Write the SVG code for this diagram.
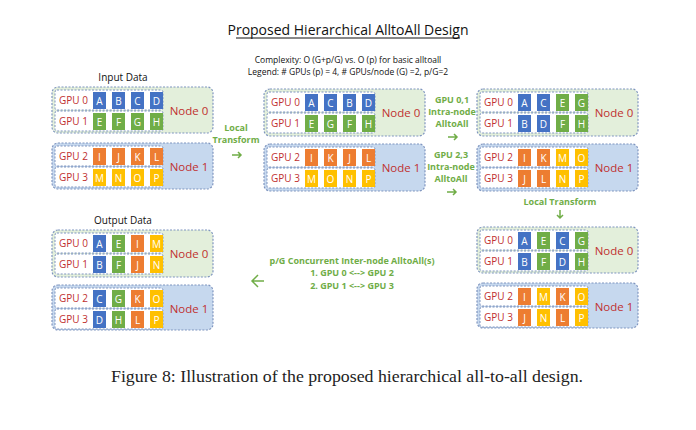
<svg xmlns="http://www.w3.org/2000/svg" width="696" height="430" viewBox="0 0 696 430">
<style>
text{font-family:"Open Sans","Liberation Sans",sans-serif}
.cap{font-family:"Liberation Serif",serif;font-size:16px;fill:#222;text-anchor:middle}
.n0{fill:#e3efdb;stroke:#7f95bf;stroke-dasharray:2 1.5;stroke-width:1.2}
.n1{fill:#c6d8ee;stroke:#7f95bf;stroke-dasharray:2 1.5;stroke-width:1.2}
.row{fill:#fff;stroke:#7f95bf;stroke-dasharray:2 1.5;stroke-width:1}
.g{font-size:10px;fill:#c0302f}
.nl{font-size:11.5px;fill:#c0302f;text-anchor:middle}
.c{font-size:10px;fill:#fff;text-anchor:middle}
.b{fill:#4472c4}.gr{fill:#70ad47}.o{fill:#ed7d31}.y{fill:#ffc000}
.lab{font-size:9px;fill:#70ad47;font-weight:bold;text-anchor:middle}
.arr{stroke:#70ad47;stroke-width:1.5;fill:none}
</style>
<text x="348" y="35" font-size="14" text-anchor="middle" fill="#111">Proposed Hierarchical AlltoAll Design</text>
<line x1="236" y1="38" x2="460" y2="38" stroke="#111" stroke-width="1"/>
<text x="348" y="63" font-size="8.5" text-anchor="middle" fill="#111">Complexity: O (G+p/G) vs. O (p) for basic alltoall</text>
<text x="348" y="75" font-size="8.5" text-anchor="middle" fill="#111">Legend: # GPUs (p) = 4, # GPUs/node (G) =2, p/G=2</text>
<text x="123" y="81" font-size="10" text-anchor="middle" fill="#111">Input Data</text>
<text x="123" y="224" font-size="10" text-anchor="middle" fill="#111">Output Data</text>

<g id="in-node0" transform="translate(52,87)">
<rect class="n0" width="161" height="46" rx="6"/>
<rect class="row" x="3" y="3" width="108" height="20" rx="2"/><rect class="row" x="3" y="24" width="108" height="20" rx="2"/>
<text class="g" x="7" y="17">GPU 0</text><text class="g" x="7" y="38">GPU 1</text>
<rect class="b" x="41" y="5" width="13" height="17"/><rect class="b" x="60" y="5" width="13" height="17"/><rect class="b" x="79" y="5" width="13" height="17"/><rect class="b" x="98" y="5" width="13" height="17"/>
<rect class="gr" x="41" y="26" width="13" height="17"/><rect class="gr" x="60" y="26" width="13" height="17"/><rect class="gr" x="79" y="26" width="13" height="17"/><rect class="gr" x="98" y="26" width="13" height="17"/>
<text class="c" x="47.5" y="17.5">A</text><text class="c" x="66.5" y="17.5">B</text><text class="c" x="85.5" y="17.5">C</text><text class="c" x="104.5" y="17.5">D</text>
<text class="c" x="47.5" y="38.5">E</text><text class="c" x="66.5" y="38.5">F</text><text class="c" x="85.5" y="38.5">G</text><text class="c" x="104.5" y="38.5">H</text>
<text class="nl" x="137" y="28">Node 0</text>
</g>
<g id="in-node1" transform="translate(52,143)">
<rect class="n1" width="161" height="46" rx="6"/>
<rect class="row" x="3" y="3" width="108" height="20" rx="2"/><rect class="row" x="3" y="24" width="108" height="20" rx="2"/>
<text class="g" x="7" y="17">GPU 2</text><text class="g" x="7" y="38">GPU 3</text>
<rect class="o" x="41" y="5" width="13" height="17"/><rect class="o" x="60" y="5" width="13" height="17"/><rect class="o" x="79" y="5" width="13" height="17"/><rect class="o" x="98" y="5" width="13" height="17"/>
<rect class="y" x="41" y="26" width="13" height="17"/><rect class="y" x="60" y="26" width="13" height="17"/><rect class="y" x="79" y="26" width="13" height="17"/><rect class="y" x="98" y="26" width="13" height="17"/>
<text class="c" x="47.5" y="17.5">I</text><text class="c" x="66.5" y="17.5">J</text><text class="c" x="85.5" y="17.5">K</text><text class="c" x="104.5" y="17.5">L</text>
<text class="c" x="47.5" y="38.5">M</text><text class="c" x="66.5" y="38.5">N</text><text class="c" x="85.5" y="38.5">O</text><text class="c" x="104.5" y="38.5">P</text>
<text class="nl" x="137" y="28">Node 1</text>
</g>

<g id="mid-node0" transform="translate(264,89)">
<rect class="n0" width="161" height="47" rx="6"/>
<rect class="row" x="3" y="3" width="108" height="20" rx="2"/><rect class="row" x="3" y="24" width="108" height="20" rx="2"/>
<text class="g" x="7" y="17">GPU 0</text><text class="g" x="7" y="38">GPU 1</text>
<rect class="b" x="41" y="5" width="13" height="17"/><rect class="b" x="60" y="5" width="13" height="17"/><rect class="b" x="79" y="5" width="13" height="17"/><rect class="b" x="98" y="5" width="13" height="17"/>
<rect class="gr" x="41" y="26" width="13" height="17"/><rect class="gr" x="60" y="26" width="13" height="17"/><rect class="gr" x="79" y="26" width="13" height="17"/><rect class="gr" x="98" y="26" width="13" height="17"/>
<text class="c" x="47.5" y="17.5">A</text><text class="c" x="66.5" y="17.5">C</text><text class="c" x="85.5" y="17.5">B</text><text class="c" x="104.5" y="17.5">D</text>
<text class="c" x="47.5" y="38.5">E</text><text class="c" x="66.5" y="38.5">G</text><text class="c" x="85.5" y="38.5">F</text><text class="c" x="104.5" y="38.5">H</text>
<text class="nl" x="137" y="28">Node 0</text>
</g>
<g id="mid-node1" transform="translate(264,144)">
<rect class="n1" width="161" height="47" rx="6"/>
<rect class="row" x="3" y="3" width="108" height="20" rx="2"/><rect class="row" x="3" y="24" width="108" height="20" rx="2"/>
<text class="g" x="7" y="17">GPU 2</text><text class="g" x="7" y="38">GPU 3</text>
<rect class="o" x="41" y="5" width="13" height="17"/><rect class="o" x="60" y="5" width="13" height="17"/><rect class="o" x="79" y="5" width="13" height="17"/><rect class="o" x="98" y="5" width="13" height="17"/>
<rect class="y" x="41" y="26" width="13" height="17"/><rect class="y" x="60" y="26" width="13" height="17"/><rect class="y" x="79" y="26" width="13" height="17"/><rect class="y" x="98" y="26" width="13" height="17"/>
<text class="c" x="47.5" y="17.5">I</text><text class="c" x="66.5" y="17.5">K</text><text class="c" x="85.5" y="17.5">J</text><text class="c" x="104.5" y="17.5">L</text>
<text class="c" x="47.5" y="38.5">M</text><text class="c" x="66.5" y="38.5">O</text><text class="c" x="85.5" y="38.5">N</text><text class="c" x="104.5" y="38.5">P</text>
<text class="nl" x="137" y="28">Node 1</text>
</g>

<g id="r-node0" transform="translate(477,89)">
<rect class="n0" width="161" height="47" rx="6"/>
<rect class="row" x="3" y="3" width="108" height="20" rx="2"/><rect class="row" x="3" y="24" width="108" height="20" rx="2"/>
<text class="g" x="7" y="17">GPU 0</text><text class="g" x="7" y="38">GPU 1</text>
<rect class="b" x="41" y="5" width="13" height="17"/><rect class="b" x="60" y="5" width="13" height="17"/><rect class="gr" x="79" y="5" width="13" height="17"/><rect class="gr" x="98" y="5" width="13" height="17"/>
<rect class="b" x="41" y="26" width="13" height="17"/><rect class="b" x="60" y="26" width="13" height="17"/><rect class="gr" x="79" y="26" width="13" height="17"/><rect class="gr" x="98" y="26" width="13" height="17"/>
<text class="c" x="47.5" y="17.5">A</text><text class="c" x="66.5" y="17.5">C</text><text class="c" x="85.5" y="17.5">E</text><text class="c" x="104.5" y="17.5">G</text>
<text class="c" x="47.5" y="38.5">B</text><text class="c" x="66.5" y="38.5">D</text><text class="c" x="85.5" y="38.5">F</text><text class="c" x="104.5" y="38.5">H</text>
<text class="nl" x="137" y="28">Node 0</text>
</g>
<g id="r-node1" transform="translate(477,144)">
<rect class="n1" width="161" height="47" rx="6"/>
<rect class="row" x="3" y="3" width="108" height="20" rx="2"/><rect class="row" x="3" y="24" width="108" height="20" rx="2"/>
<text class="g" x="7" y="17">GPU 2</text><text class="g" x="7" y="38">GPU 3</text>
<rect class="o" x="41" y="5" width="13" height="17"/><rect class="o" x="60" y="5" width="13" height="17"/><rect class="y" x="79" y="5" width="13" height="17"/><rect class="y" x="98" y="5" width="13" height="17"/>
<rect class="o" x="41" y="26" width="13" height="17"/><rect class="o" x="60" y="26" width="13" height="17"/><rect class="y" x="79" y="26" width="13" height="17"/><rect class="y" x="98" y="26" width="13" height="17"/>
<text class="c" x="47.5" y="17.5">I</text><text class="c" x="66.5" y="17.5">K</text><text class="c" x="85.5" y="17.5">M</text><text class="c" x="104.5" y="17.5">O</text>
<text class="c" x="47.5" y="38.5">J</text><text class="c" x="66.5" y="38.5">L</text><text class="c" x="85.5" y="38.5">N</text><text class="c" x="104.5" y="38.5">P</text>
<text class="nl" x="137" y="28">Node 1</text>
</g>

<g id="br-node0" transform="translate(477,227)">
<rect class="n0" width="161" height="46" rx="6"/>
<rect class="row" x="3" y="3" width="108" height="20" rx="2"/><rect class="row" x="3" y="24" width="108" height="20" rx="2"/>
<text class="g" x="7" y="17">GPU 0</text><text class="g" x="7" y="38">GPU 1</text>
<rect class="b" x="41" y="5" width="13" height="17"/><rect class="gr" x="60" y="5" width="13" height="17"/><rect class="b" x="79" y="5" width="13" height="17"/><rect class="gr" x="98" y="5" width="13" height="17"/>
<rect class="b" x="41" y="26" width="13" height="17"/><rect class="gr" x="60" y="26" width="13" height="17"/><rect class="b" x="79" y="26" width="13" height="17"/><rect class="gr" x="98" y="26" width="13" height="17"/>
<text class="c" x="47.5" y="17.5">A</text><text class="c" x="66.5" y="17.5">E</text><text class="c" x="85.5" y="17.5">C</text><text class="c" x="104.5" y="17.5">G</text>
<text class="c" x="47.5" y="38.5">B</text><text class="c" x="66.5" y="38.5">F</text><text class="c" x="85.5" y="38.5">D</text><text class="c" x="104.5" y="38.5">H</text>
<text class="nl" x="137" y="28">Node 0</text>
</g>
<g id="br-node1" transform="translate(477,283)">
<rect class="n1" width="161" height="45" rx="6"/>
<rect class="row" x="3" y="3" width="108" height="20" rx="2"/><rect class="row" x="3" y="24" width="108" height="20" rx="2"/>
<text class="g" x="7" y="17">GPU 2</text><text class="g" x="7" y="38">GPU 3</text>
<rect class="o" x="41" y="5" width="13" height="17"/><rect class="y" x="60" y="5" width="13" height="17"/><rect class="o" x="79" y="5" width="13" height="17"/><rect class="y" x="98" y="5" width="13" height="17"/>
<rect class="o" x="41" y="26" width="13" height="17"/><rect class="y" x="60" y="26" width="13" height="17"/><rect class="o" x="79" y="26" width="13" height="17"/><rect class="y" x="98" y="26" width="13" height="17"/>
<text class="c" x="47.5" y="17.5">I</text><text class="c" x="66.5" y="17.5">M</text><text class="c" x="85.5" y="17.5">K</text><text class="c" x="104.5" y="17.5">O</text>
<text class="c" x="47.5" y="38.5">J</text><text class="c" x="66.5" y="38.5">N</text><text class="c" x="85.5" y="38.5">L</text><text class="c" x="104.5" y="38.5">P</text>
<text class="nl" x="137" y="28">Node 1</text>
</g>

<g id="out-node0" transform="translate(52,230)">
<rect class="n0" width="161" height="47" rx="6"/>
<rect class="row" x="3" y="3" width="108" height="20" rx="2"/><rect class="row" x="3" y="24" width="108" height="20" rx="2"/>
<text class="g" x="7" y="17">GPU 0</text><text class="g" x="7" y="38">GPU 1</text>
<rect class="b" x="41" y="5" width="13" height="17"/><rect class="gr" x="60" y="5" width="13" height="17"/><rect class="o" x="79" y="5" width="13" height="17"/><rect class="y" x="98" y="5" width="13" height="17"/>
<rect class="b" x="41" y="26" width="13" height="17"/><rect class="gr" x="60" y="26" width="13" height="17"/><rect class="o" x="79" y="26" width="13" height="17"/><rect class="y" x="98" y="26" width="13" height="17"/>
<text class="c" x="47.5" y="17.5">A</text><text class="c" x="66.5" y="17.5">E</text><text class="c" x="85.5" y="17.5">I</text><text class="c" x="104.5" y="17.5">M</text>
<text class="c" x="47.5" y="38.5">B</text><text class="c" x="66.5" y="38.5">F</text><text class="c" x="85.5" y="38.5">J</text><text class="c" x="104.5" y="38.5">N</text>
<text class="nl" x="137" y="28">Node 0</text>
</g>
<g id="out-node1" transform="translate(52,285)">
<rect class="n1" width="161" height="45" rx="6"/>
<rect class="row" x="3" y="3" width="108" height="20" rx="2"/><rect class="row" x="3" y="24" width="108" height="20" rx="2"/>
<text class="g" x="7" y="17">GPU 2</text><text class="g" x="7" y="38">GPU 3</text>
<rect class="b" x="41" y="5" width="13" height="17"/><rect class="gr" x="60" y="5" width="13" height="17"/><rect class="o" x="79" y="5" width="13" height="17"/><rect class="y" x="98" y="5" width="13" height="17"/>
<rect class="b" x="41" y="26" width="13" height="17"/><rect class="gr" x="60" y="26" width="13" height="17"/><rect class="o" x="79" y="26" width="13" height="17"/><rect class="y" x="98" y="26" width="13" height="17"/>
<text class="c" x="47.5" y="17.5">C</text><text class="c" x="66.5" y="17.5">G</text><text class="c" x="85.5" y="17.5">K</text><text class="c" x="104.5" y="17.5">O</text>
<text class="c" x="47.5" y="38.5">D</text><text class="c" x="66.5" y="38.5">H</text><text class="c" x="85.5" y="38.5">L</text><text class="c" x="104.5" y="38.5">P</text>
<text class="nl" x="137" y="28">Node 1</text>
</g>

<g id="connectors">
<text class="lab" x="236" y="131">Local</text>
<text class="lab" x="236" y="143">Transform</text>
<path class="arr" d="M232 155h9M238 152l3 3-3 3"/>
<text class="lab" x="452" y="103">GPU 0,1</text>
<text class="lab" x="452" y="115">Intra-node</text>
<text class="lab" x="452" y="127">AlltoAll</text>
<path class="arr" d="M448 137h9M454 134l3 3-3 3"/>
<text class="lab" x="451" y="158">GPU 2,3</text>
<text class="lab" x="451" y="170">Intra-node</text>
<text class="lab" x="451" y="182">AlltoAll</text>
<path class="arr" d="M447 192h9M453 189l3 3-3 3"/>
<text class="lab" x="560" y="205">Local Transform</text>
<path class="arr" d="M560 210v8M557 215l3 3 3-3"/>
<text class="lab" x="352" y="264">p/G Concurrent Inter-node AlltoAll(s)</text>
<text class="lab" x="352" y="276">1. GPU 0 &lt;--&gt; GPU 2</text>
<text class="lab" x="352" y="289">2. GPU 1 &lt;--&gt; GPU 3</text>
<path class="arr" d="M264 281h-12M258 275l-6 6 6 6" stroke-width="2"/>
</g>
<text class="cap" x="347" y="382" textLength="472" lengthAdjust="spacingAndGlyphs">Figure 8: Illustration of the proposed hierarchical all-to-all design.</text>
</svg>
